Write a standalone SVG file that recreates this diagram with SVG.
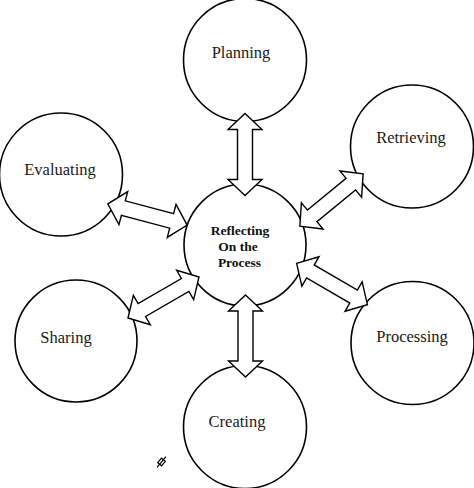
<svg xmlns="http://www.w3.org/2000/svg" width="474" height="488" viewBox="0 0 474 488">
<style>
.node circle{fill:#fff;stroke:#000;stroke-width:1.6}
.lbl{font-family:"Liberation Serif","Times New Roman",serif;font-size:16.5px;fill:#1a1a1a;text-anchor:middle}
.blbl{font-family:"Liberation Serif","Times New Roman",serif;font-size:13.5px;font-weight:bold;fill:#111;text-anchor:middle}
.arr{fill:#fff;stroke:#000;stroke-width:1.4;stroke-linejoin:miter}
</style>
<defs>
<path id="dbl" d="M-41,0 L-25,-17 L-25,-7.5 L25,-7.5 L25,-17 L41,0 L25,17 L25,7.5 L-25,7.5 L-25,17 Z"/>
</defs>
<rect width="474" height="488" fill="#fff"/>
<g id="planning" class="node"><circle cx="245" cy="60" r="61.5"/><text class="lbl" x="241" y="58">Planning</text></g>
<g id="evaluating" class="node"><circle cx="61" cy="174.5" r="61.5"/><text class="lbl" x="60" y="175">Evaluating</text></g>
<g id="retrieving" class="node"><circle cx="412" cy="146.5" r="61.5"/><text class="lbl" x="411" y="143">Retrieving</text></g>
<g id="sharing" class="node"><circle cx="76" cy="341" r="61"/><text class="lbl" x="66" y="343">Sharing</text></g>
<g id="processing" class="node"><circle cx="412.5" cy="343" r="61.5"/><text class="lbl" x="412" y="342">Processing</text></g>
<g id="creating" class="node"><circle cx="245" cy="427" r="61.5"/><text class="lbl" x="237" y="427">Creating</text></g>
<g id="reflecting" class="node"><circle cx="245" cy="245" r="61"/>
<text class="blbl" x="240" y="235">Reflecting</text>
<text class="blbl" x="238" y="251">On the</text>
<text class="blbl" x="239.5" y="266.5">Process</text></g>
<g id="connectors" class="arr">
<use href="#dbl" transform="translate(245,154.5) rotate(90)"/>
<use href="#dbl" transform="translate(245.5,336) rotate(90)"/>
<use href="#dbl" transform="translate(147.5,214.5) rotate(14.9)"/>
<use href="#dbl" transform="translate(331.5,200) rotate(-39.5)"/>
<use href="#dbl" transform="translate(163.5,297.5) rotate(-30)"/>
<use href="#dbl" transform="translate(332,284) rotate(30.3)"/>
</g>
<g id="mark" transform="translate(161.5,462) rotate(-50)" fill="none" stroke="#000" stroke-width="1.2">
<rect x="-3" y="-2.5" width="6" height="5"/>
<line x1="-7" y1="0" x2="7" y2="0"/>
</g>
</svg>
